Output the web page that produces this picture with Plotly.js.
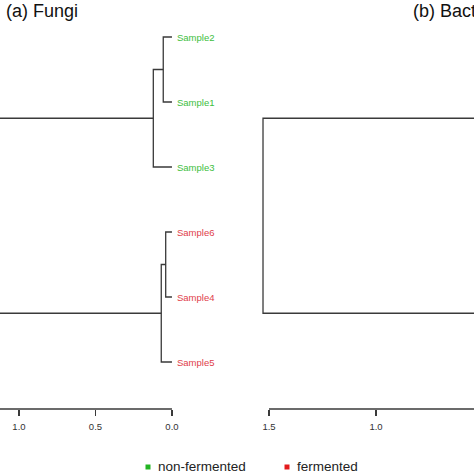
<!DOCTYPE html>
<html><head><meta charset="utf-8">
<script src="https://cdn.plot.ly/plotly-3.0.1.min.js"></script>
<style>html,body{margin:0;padding:0;background:#fff;}#chart{width:474px;height:474px;}</style>
</head><body><div id="chart"></div>
<script>
// ---------- data ----------
// leaf order from bottom (position 1) to top (position 6)
const fungiLeaves = ['Sample5', 'Sample4', 'Sample6', 'Sample3', 'Sample1', 'Sample2'];
const fungiGroups = ['fermented', 'fermented', 'fermented', 'non-fermented', 'non-fermented', 'non-fermented'];
// merges: negative = leaf position, positive = earlier merge index (1-based)
const fungiMergeLeft  = [-5, -2, -4, -1, 3];
const fungiMergeRight = [-6, -3, 1, 2, 4];
const fungiHeights    = [0.057, 0.041, 0.122, 0.070, 1.35];

const bactMergeLeft  = [-2, -5, -1, -4, 3];
const bactMergeRight = [-3, -6, 1, 2, 4];
const bactHeights    = [0.12, 0.18, 0.32, 0.40, 1.528];

const fungiTicks = [0, 0.5, 1.0, 1.5];
const bactTicks  = [0, 0.5, 1.0, 1.5];

const panelTitles  = ['(a) Fungi', '(b) Bacteria'];
const legendLabels = ['non-fermented', 'fermented'];
const legendColors = ['#22B422', '#E31A1C'];
const labelColors  = {'non-fermented': '#3DBE3D', 'fermented': '#E0404A'};

// ---------- helpers ----------
function dendroSegments(left, right, heights) {
  const nodes = [];
  const xs = [], ys = [];
  function pos(n) { return n < 0 ? {y: -n, h: 0} : nodes[n - 1]; }
  for (let i = 0; i < heights.length; i++) {
    const a = pos(left[i]), b = pos(right[i]), h = heights[i];
    xs.push(a.h, h, h, b.h, null);
    ys.push(a.y, a.y, b.y, b.y, null);
    nodes.push({y: (a.y + b.y) / 2, h: h});
  }
  return {x: xs, y: ys};
}

const lineColor = '#3a3a3a';
const font = 'Liberation Sans, Arial, sans-serif';

const fSeg = dendroSegments(fungiMergeLeft, fungiMergeRight, fungiHeights);
const bSeg = dendroSegments(bactMergeLeft, bactMergeRight, bactHeights);

const traces = [
  {type: 'scatter', mode: 'lines', x: fSeg.x, y: fSeg.y, xaxis: 'x', yaxis: 'y',
   line: {color: lineColor, width: 1.3}, hoverinfo: 'skip', showlegend: false},
  {type: 'scatter', mode: 'lines', x: bSeg.x, y: bSeg.y, xaxis: 'x2', yaxis: 'y2',
   line: {color: lineColor, width: 1.3}, hoverinfo: 'skip', showlegend: false}
];

const W = 474, H = 474;
const axisY = 1 - 409 / H;
const yRange = [1 - 47 / 65, 1 + 362 / 65];

function xaxisDef(domain, range, ticks, anchor) {
  return {
    domain: domain, range: range, anchor: anchor,
    tickmode: 'array', tickvals: ticks, ticktext: ticks.map(v => v.toFixed(1)),
    ticks: 'outside', ticklen: 6, tickwidth: 1.2, tickcolor: lineColor,
    ticklabelstandoff: 3,
    showline: false, showgrid: false, zeroline: false,
    tickfont: {family: font, size: 9.5, color: '#333'}, fixedrange: true
  };
}
function yaxisDef() {
  return {domain: [axisY, 1], range: yRange, visible: false, fixedrange: true};
}

const annotations = [];
fungiLeaves.forEach((name, i) => {
  annotations.push({
    x: 0, y: i + 1, xref: 'x', yref: 'y', text: name, showarrow: false,
    xanchor: 'left', yanchor: 'middle', xshift: 5, borderpad: 0, borderwidth: 0,
    font: {family: font, size: 9.5, color: labelColors[fungiGroups[i]]}
  });
});
annotations.push({x: 6 / W, y: 1 - 11 / H, xref: 'paper', yref: 'paper', text: panelTitles[0],
  showarrow: false, xanchor: 'left', yanchor: 'middle', borderpad: 0, borderwidth: 0,
  font: {family: font, size: 18, color: '#111'}});
annotations.push({x: 413 / W, y: 1 - 11 / H, xref: 'paper', yref: 'paper', text: panelTitles[1],
  showarrow: false, xanchor: 'left', yanchor: 'middle', borderpad: 0, borderwidth: 0,
  font: {family: font, size: 18, color: '#111'}});

const legendX = [148, 287];
const shapes = [];
legendLabels.forEach((lab, i) => {
  shapes.push({type: 'rect', xref: 'paper', yref: 'paper',
    x0: (legendX[i] - 2.5) / W, x1: (legendX[i] + 2.5) / W,
    y0: 1 - 469.5 / H, y1: 1 - 464.5 / H,
    fillcolor: legendColors[i], line: {width: 0}});
  annotations.push({x: (legendX[i] + 10) / W, y: 1 - 466 / H, xref: 'paper', yref: 'paper',
    text: lab, showarrow: false, xanchor: 'left', yanchor: 'middle', borderpad: 0, borderwidth: 0,
    font: {family: font, size: 13.5, color: '#222'}});
});

// axis lines from first to last tick (R style)
shapes.push({type: 'line', xref: 'x', yref: 'paper',
  x0: Math.min(...fungiTicks), x1: Math.max(...fungiTicks), y0: axisY, y1: axisY,
  line: {color: lineColor, width: 1.3}});
shapes.push({type: 'line', xref: 'x2', yref: 'paper',
  x0: Math.min(...bactTicks), x1: Math.max(...bactTicks), y0: axisY, y1: axisY,
  line: {color: lineColor, width: 1.3}});

const layout = {
  width: W, height: H, margin: {l: 0, r: 0, t: 0, b: 0},
  paper_bgcolor: '#fff', plot_bgcolor: '#fff', showlegend: false,
  xaxis: xaxisDef([0, 0.5], [1.124, -0.425], fungiTicks, 'y'),
  yaxis: yaxisDef(),
  xaxis2: xaxisDef([0.5, 1], [1 + 139 / 214, 1 - 98 / 214], bactTicks, 'y2'),
  yaxis2: Object.assign(yaxisDef(), {anchor: 'x2'}),
  annotations: annotations, shapes: shapes
};

Plotly.newPlot('chart', traces, layout, {displayModeBar: false, staticPlot: true});
</script></body></html>
